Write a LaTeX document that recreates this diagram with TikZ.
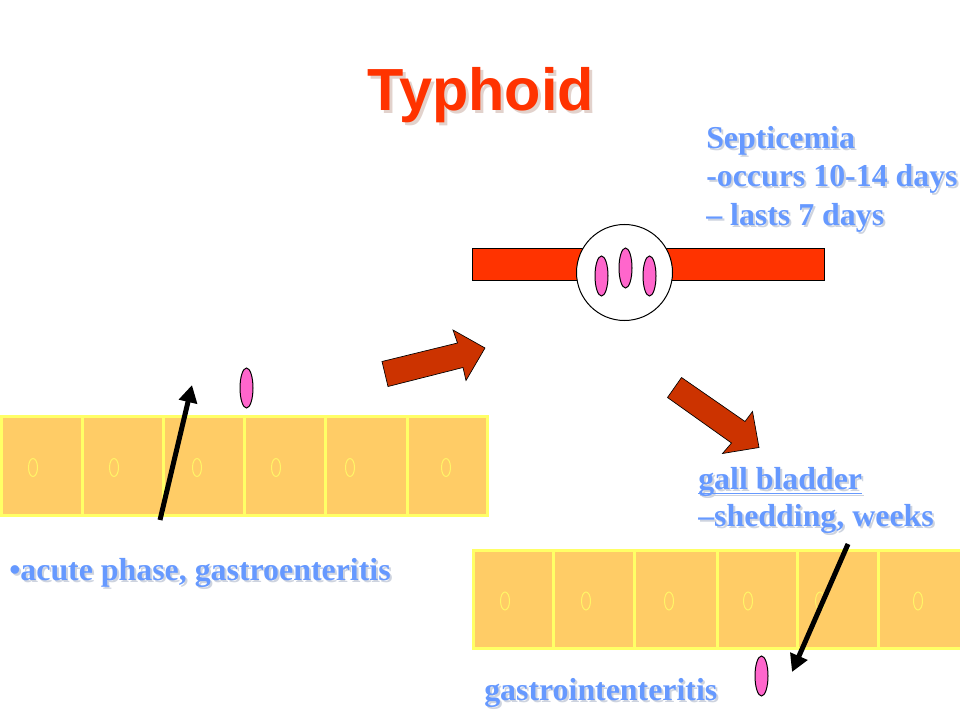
\documentclass[tikz,border=0pt]{standalone}
\usepackage{fontspec}
\setmainfont{Liberation Serif}
\newfontfamily\titlefont{Liberation Sans}
\usetikzlibrary{arrows.meta,positioning}
\definecolor{barred}{HTML}{FF3300}
\definecolor{blockred}{HTML}{CC3300}
\definecolor{germpink}{HTML}{FF66CC}
\definecolor{cellorange}{HTML}{FFCC66}
\definecolor{cellyellow}{HTML}{FFFF66}
\definecolor{labelblue}{HTML}{6699FF}
\definecolor{labelshadow}{HTML}{CDD3DF}
\definecolor{titleshadow}{HTML}{E2D2CC}
\newcommand{\barred}[1]{\leavevmode\setbox0=\hbox{#1}\rlap{\vrule height -2.8pt depth 3.9pt width \wd0}#1}
\tikzset{
	cellbox/.style={draw=cellyellow, fill=cellorange, line width=2.25pt},
	nucleus/.style={draw=cellyellow!80!cellorange, line width=0.75pt},
	germ/.style={draw=black, fill=germpink, line width=0.75pt},
	blockarrow/.style={draw=black, fill=blockred, line width=0.5pt},
	thinarrow/.style={draw=black, line width=3.75pt, -{Triangle[length=13pt,width=13.5pt]}},
	txt/.style={anchor=base west, inner sep=0pt, font=\fontsize{23.9}{24}\bfseries\selectfont, text=labelblue},
	txtshadow/.style={txt, text=labelshadow},
	titletxt/.style={anchor=base west, inner sep=0pt, font=\titlefont\fontsize{44.6}{45}\bfseries\selectfont, text=barred},
	titleshade/.style={titletxt, text=titleshadow},
}
\begin{document}
\begin{tikzpicture}[x=0.75pt,y=-0.75pt]
		\useasboundingbox (0,0) rectangle (960,720);
		\fill[white] (0,0) rectangle (960,720);
		% title
		\foreach \sty/\sx/\sy in {titleshade/3/3, titletxt/0/0}
			\node[\sty] (\sty) at (367+\sx,111+\sy) {Typhoid};
		% blood vessel
		\filldraw[draw=black, fill=barred, line width=0.75pt] (472.5,248.5) rectangle (824.5,280.5);
		\filldraw[draw=black, fill=white, line width=0.75pt] (624.5,272.5) circle (48);
		\foreach \gx/\gy in {601.5/276, 625.5/268, 649.5/276, 246.5/388, 761.5/676}
			\filldraw[germ] (\gx,\gy) ellipse (6.5 and 20);
		% left strip
		\foreach \cx/\cw/\nx in {1/81/33, 82/81/114, 163/81/197, 244/81/276, 325/82/350, 407/80/446} {
			\filldraw[cellbox] (\cx,416.5) rectangle +(\cw,99);
			\draw[nucleus] (\nx,467.5) ellipse (4.5 and 9);
		}
		% right strip
		\foreach \cx/\cw/\nx in {473/80/505, 553/81/586, 634/83/669, 717/80/748, 797/81/820, 878/84/918} {
			\filldraw[cellbox] (\cx,550.5) rectangle +(\cw,98);
			\draw[nucleus] (\nx,601) ellipse (4.5 and 9);
		}
		% block arrows
		\filldraw[blockarrow] (382,361.5) -- (388,386.5) -- (463,367.5) -- (466,380.5) -- (485,348) -- (453,330) -- (457.5,343) -- cycle;
		\filldraw[blockarrow] (681.5,377.5) -- (667.5,397.5) -- (731.5,443) -- (722.5,453.5) -- (759,447.5) -- (752.5,411.5) -- (745,421.5) -- cycle;
		% thin arrows
		\coordinate (upstart) at (160,520);
		\coordinate (uptip) at (192,385);
		\coordinate (downstart) at (848,544);
		\coordinate (downtip) at (792,672);
		\draw[thinarrow] (upstart) -- (uptip);
		\draw[thinarrow] (downstart) -- (downtip);
		% labels
		\foreach \sty/\sx/\sy in {txtshadow/2/2, txt/0/0} {
			\node[\sty] (septicemia-\sty) at (706+\sx,148.5+\sy) {Septicemia};
			\node[\sty] (occurs-\sty) at (706+\sx,187+\sy) {-occurs 10-14 days};
			\node[\sty] (lasts-\sty) at (706+\sx,226+\sy) {-- lasts 7 days};
			\node[\sty] (acute-\sty) at (9+\sx,580+\sy) {\textbullet acute phase, gastroenteritis};
			\node[\sty] (gall-\sty) at (698+\sx,489+\sy) {\barred{gall bladder}};
			\node[\sty] (shedding-\sty) at (698+\sx,526.5+\sy) {--shedding, weeks};
			\node[\sty] (gastro-\sty) at (484+\sx,700+\sy) {gastrointenteritis};
		}
\end{tikzpicture}
\end{document}
